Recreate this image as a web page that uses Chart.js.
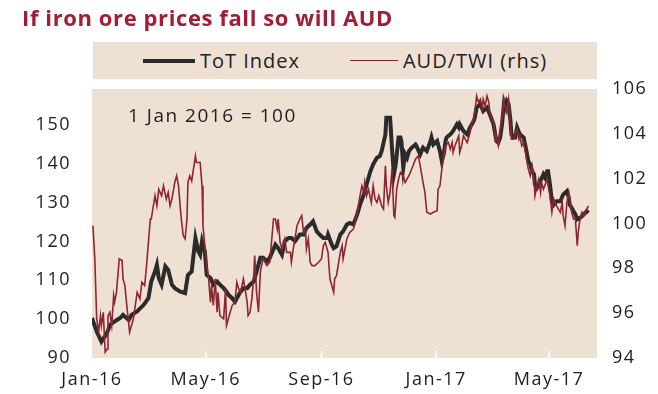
<!DOCTYPE html>
<html>
<head>
<meta charset="utf-8">
<script src="https://cdn.jsdelivr.net/npm/chart.js@4.4.1/dist/chart.umd.min.js"></script>
<style>
  html, body { margin: 0; padding: 0; background: #fff; }
  #wrap { position: relative; width: 658px; height: 394px; font-family: "Open Sans", sans-serif; }
  #title { position: absolute; left: 22px; top: 2px; font-size: 22px; letter-spacing: 0.6px; font-weight: bold;
           color: #a01d33; white-space: nowrap; }
  #legend { position: absolute; left: 93px; top: 42px; width: 504px; height: 37px; background: #efe0d4;
            display: flex; align-items: center; justify-content: center; box-sizing: border-box;
            font-size: 20px; letter-spacing: 1px; color: #222; }
  .item { display: flex; align-items: center; }
  .item + .item { margin-left: 50px; }
  .swatch { display: inline-block; margin-right: 5px; }
  canvas { position: absolute; left: 0; top: 0; }
</style>
</head>
<body>
<div id="wrap">
  <canvas id="chart" width="658" height="394"></canvas>
  <div id="title">If iron ore prices fall so will AUD</div>
  <div id="legend">
    <span class="item"><span class="swatch" style="width:52px;height:4px;background:#2b2b2b"></span>ToT Index</span>
    <span class="item"><span class="swatch" style="width:48px;height:1.5px;background:#7d2a2e"></span>AUD/TWI (rhs)</span>
  </div>
</div>
<script>
const BEIGE = "#efe0d4";
const BLACK = "#2b2b2b";
const RED = "#8e2631";
const TEXT = "#1e1e1e";

const BASE_NOTE = "1 Jan 2016 = 100";

// x axis: days since 1 Jan 2016
const tickDays = [0, 121, 244, 366, 486];
const tickLabels = ["Jan-16", "May-16", "Sep-16", "Jan-17", "May-17"];
const leftTicks = [90, 100, 110, 120, 130, 140, 150];
const rightTicks = [94, 96, 98, 100, 102, 104, 106];

// ToT index (lhs)
const totDays = [0, 5, 10, 16, 19, 24, 30, 33, 39, 42, 48, 55, 60, 63, 67, 69, 71, 74, 78, 81, 85, 88, 94, 99, 102,
  106, 110, 113, 115, 117, 118, 120, 122, 126, 129, 133, 136, 140, 143, 145, 149, 152, 154, 158, 161, 165, 168, 172,
  175, 179, 182, 186, 189, 195, 198, 202, 205, 209, 212, 216, 221, 225, 228, 232, 235, 239, 242, 246, 250, 251, 255,
  257, 260, 264, 267, 271, 274, 278, 282, 285, 289, 292, 296, 299, 303, 306, 308, 312, 313, 317, 319, 321, 323, 326,
  328, 329, 331, 333, 335, 337, 340, 344, 345, 349, 352, 356, 360, 361, 363, 367, 370, 372, 374, 376, 377, 381, 384,
  388, 390, 391, 395, 399, 402, 406, 407, 409, 413, 416, 420, 423, 427, 430, 432, 434, 436, 438, 439, 441, 443, 445,
  446, 448, 450, 452, 455, 459, 462, 464, 466, 468, 470, 471, 473, 477, 480, 482, 484, 485, 487, 489, 491, 494, 498,
  501, 505, 507, 508, 510, 512, 514, 516, 519, 523, 526, 528];
const totIdx = [100.3, 96.8, 94.2, 96.4, 98.5, 99.4, 100.3, 101.1, 99.8, 101.1, 102.0, 103.7, 105.4, 109.7, 112.3, 114.0,
  110.6, 108.9, 113.6, 112.7, 108.9, 108.0, 107.1, 106.7, 111.4,
  112.3, 120.9, 117.5, 116.6, 120.1, 119.2, 117.5, 111.4, 110.6, 108.9, 109.7, 108.9, 108.0, 107.1, 106.3, 105.4, 104.5,
  105.4, 107.1, 108.0, 108.0, 108.9, 109.7, 112.3, 115.8, 115.8, 114.9, 115.8, 119.2, 118.3, 116.6, 120.1, 120.9,
  120.9, 120.1, 121.8, 121.8, 123.5, 124.4, 125.2, 122.6, 121.8, 120.9, 120.9, 121.8, 119.2, 118.3, 118.8, 121.8, 122.6,
  124.4, 124.8, 124.4, 127.0, 129.5, 132.1, 134.7, 138.1, 139.9, 141.6, 142.0, 143.3, 147.6, 151.9, 151.9, 144.0, 137.3,
  139.9, 146.8, 146.8, 145.9, 139.0, 142.5, 141.6, 143.3, 144.2, 145.0, 144.6, 142.5, 144.2, 143.3, 145.9, 146.8, 145.0,
  145.9, 143.3, 140.7, 142.5, 145.9, 146.8, 147.6, 148.5, 150.2, 149.4, 150.2, 148.5, 147.6, 149.4, 151.1, 151.9, 154.5,
  155.4, 153.6, 154.5, 152.8, 150.2, 145.9, 145.5, 146.8, 150.2, 155.4, 154.5, 156.2, 155.4, 151.1, 147.6, 146.8, 146.8,
  149.4, 147.6, 146.8, 143.3, 140.7, 139.9, 138.1, 137.3, 134.7, 133.8, 135.6, 137.3, 136.4, 138.1, 138.1, 134.7, 130.4,
  129.5, 130.4, 130.4, 132.1, 133.0, 131.3, 129.5, 128.7, 127.8, 127.0, 125.7, 126.1, 127.0, 127.8, 127.4];

// AUD trade-weighted index (rhs)
const audDays = [1, 3, 5, 7, 9, 10, 12, 14, 16, 17, 19, 21, 23, 24, 26, 29, 32, 33, 35, 37, 40, 42, 44, 48, 51, 53, 56,
  58, 62, 63, 67, 69, 71, 74, 76, 79, 81, 83, 85, 88, 90, 92, 94, 95, 97, 99, 101, 102, 104,
  106, 110, 111, 115, 117, 118, 120, 122, 124, 126, 127, 129, 131, 133, 134, 136, 140, 142, 143, 145, 149, 152, 154,
  156, 158, 161, 165, 166, 168, 170, 172, 173, 175, 177, 179, 181, 182, 186, 189, 193, 195, 197, 198, 200, 202, 204,
  205, 207, 211, 212, 214, 218, 221, 223, 225, 227, 228, 230, 232, 234, 237, 241, 244, 246, 248, 250, 251, 253, 255,
  257, 258, 260, 264, 266, 267, 271, 274, 278, 282, 285, 287, 289, 290, 292, 294, 297, 299, 301, 303, 305, 308, 310,
  312, 313, 315, 317, 319, 321, 322, 324, 326, 328, 331, 333, 337, 340, 344, 347, 349, 352, 354, 356, 360, 363, 367,
  368, 370, 372, 374, 376, 379, 381, 383, 384, 386, 390, 391, 393, 395, 399, 402, 404, 406, 407, 409, 411, 413, 415,
  416, 418, 420, 422, 423, 425, 427, 429, 430, 432, 434, 436, 438, 439, 441, 443, 445, 446, 448, 452, 454, 455, 457,
  459, 461, 462, 464, 466, 468, 470, 471, 473, 475, 477, 478, 480, 484, 485, 487, 489, 491, 494, 498, 500, 501, 503,
  505, 507, 510, 512, 514, 516, 517, 519, 521, 523, 526, 528];
const audTwi = [99.9, 98.4, 95.75, 95.15, 95.89, 95.45, 96.04, 94.26, 94.4, 95.89, 96.04, 95.45, 96.78, 96.49, 96.93,
  98.42, 98.35, 97.53, 97.23, 96.34, 95.15, 95.45, 95.75, 96.93, 96.64, 97.38, 97.23, 98.12, 100.2, 100.2, 101.24,
  100.79, 101.53, 101.24, 101.68, 101.09, 101.39, 100.79, 101.09, 101.83, 102.13, 101.68, 100.64, 100.2, 99.46, 99.31,
  100.2, 101.83, 102.13,
  101.9, 103.02, 102.72, 102.72, 101.68, 99.9, 99.01, 98.12, 97.53, 96.49, 97.23, 96.34, 97.53, 96.04, 96.93, 95.89,
  95.75, 97.08, 95.45, 95.75, 96.34, 96.49, 97.38, 97.08, 96.93, 97.53, 96.49, 95.89, 96.04, 96.64, 97.67, 98.57, 96.93,
  96.04, 97.82, 98.27, 98.42, 98.12, 98.27, 100.2, 100.2, 99.75, 100.2, 99.16, 98.86, 99.16, 99.31, 98.71, 98.71,
  98.27, 98.86, 99.9, 100.2, 100.35, 99.6, 99.75, 98.86, 99.31, 98.27, 98.12, 98.12, 98.27, 98.42, 99.01, 99.16, 98.86,
  98.71, 97.53, 97.23, 96.93, 97.53, 97.67, 98.71, 99.01, 98.42, 99.31, 99.6, 99.75, 100.5, 101.24, 101.68, 101.39,
  101.83, 101.24, 101.53, 100.94, 101.68, 101.09, 100.94, 101.24, 100.79, 100.64, 102.57, 101.68, 100.94, 101.39, 102.43,
  100.35, 100.27, 101.53, 101.98, 102.28, 102.13, 101.83, 102.13, 102.43, 102.87, 103.02, 102.57, 101.83, 101.39, 100.5,
  100.42, 100.5, 100.57, 101.53, 101.68, 102.43, 103.02, 103.47, 103.61, 103.32, 103.61, 103.17, 103.47, 103.91, 103.17,
  103.47, 103.91, 103.61, 104.06, 104.5, 104.65, 104.95, 105.69, 105.4, 105.54, 105.1, 105.54, 105.25, 105.69, 105.4,
  104.95, 104.65, 104.5, 103.76, 103.91, 103.47, 104.06, 104.65, 105.54, 105.25, 104.95, 105.54, 104.36, 103.76, 103.76,
  104.21, 103.76, 103.91, 103.47, 103.61, 103.17, 102.87, 102.43, 102.13, 102.57, 101.98, 101.24, 101.68, 101.98, 101.39,
  101.83, 101.53, 101.98, 101.68, 101.24, 100.5, 101.09, 100.79, 100.5, 100.94, 100.35, 99.9, 100.94, 101.39, 100.5,
  100.2, 100.2, 99.01, 99.6, 100.2, 100.5, 100.35, 100.64, 100.79];

Chart.defaults.font.family = '"Open Sans", sans-serif';
Chart.defaults.color = TEXT;

// the source font is wide; widen canvas text a little
const wideText = {
  id: "wideText",
  beforeDraw(chart) { chart.ctx.letterSpacing = "1.5px"; }
};

// beige plot panel, small white month marks along the bottom, base note
const plotBg = {
  id: "plotBg",
  beforeDraw(chart) {
    const { ctx, chartArea: a, scales } = chart;
    ctx.save();
    ctx.fillStyle = BEIGE;
    ctx.fillRect(a.left, a.top, a.width, a.height);
    ctx.strokeStyle = "#ffffff";
    ctx.lineWidth = 1.5;
    tickDays.slice(1).forEach(d => {
      const x = scales.x.getPixelForValue(d);
      ctx.beginPath();
      ctx.moveTo(x, a.bottom);
      ctx.lineTo(x, a.bottom - 7);
      ctx.stroke();
    });
    ctx.fillStyle = TEXT;
    ctx.font = '19px "Open Sans", sans-serif';
    ctx.textBaseline = "middle";
    ctx.fillText(BASE_NOTE, a.left + 36, a.top + 28);
    ctx.restore();
  }
};

const tickFont = { size: 18 };

new Chart(document.getElementById("chart"), {
  type: "line",
  data: {
    datasets: [
      {
        label: "ToT Index",
        data: totDays.map((d, i) => ({ x: d, y: totIdx[i] })),
        yAxisID: "yL",
        borderColor: BLACK,
        borderWidth: 4,
        pointRadius: 0,
        tension: 0,
        order: 1
      },
      {
        label: "AUD/TWI (rhs)",
        data: audDays.map((d, i) => ({ x: d, y: audTwi[i] })),
        yAxisID: "yR",
        borderColor: RED,
        borderWidth: 1.6,
        pointRadius: 0,
        tension: 0,
        order: 0
      }
    ]
  },
  options: {
    responsive: false,
    animation: false,
    layout: { padding: { top: 89, bottom: 0, left: 0, right: 0 } },
    plugins: { legend: { display: false }, tooltip: { enabled: false } },
    scales: {
      x: {
        type: "linear",
        min: 0,
        max: 537,
        border: { display: false },
        grid: { display: false, drawTicks: false },
        afterBuildTicks: s => { s.ticks = tickDays.map(v => ({ value: v })); },
        afterFit: s => { s.height = 36; },
        ticks: {
          autoSkip: false,
          maxRotation: 0,
          padding: 11,
          font: tickFont,
          callback: (v, i) => tickLabels[i]
        }
      },
      yL: {
        position: "left",
        min: 90,
        max: 159.3,
        border: { display: false },
        grid: { display: false, drawTicks: false },
        afterBuildTicks: s => { s.ticks = leftTicks.map(v => ({ value: v })); },
        afterFit: s => { s.width = 92; },
        ticks: { padding: 21, font: tickFont }
      },
      yR: {
        position: "right",
        min: 94,
        max: 106,
        border: { display: false },
        grid: { display: false, drawTicks: false },
        afterBuildTicks: s => { s.ticks = rightTicks.map(v => ({ value: v })); },
        afterFit: s => { s.width = 61; },
        ticks: { padding: 15, font: tickFont }
      }
    }
  },
  plugins: [wideText, plotBg]
});
</script>
</body>
</html>
